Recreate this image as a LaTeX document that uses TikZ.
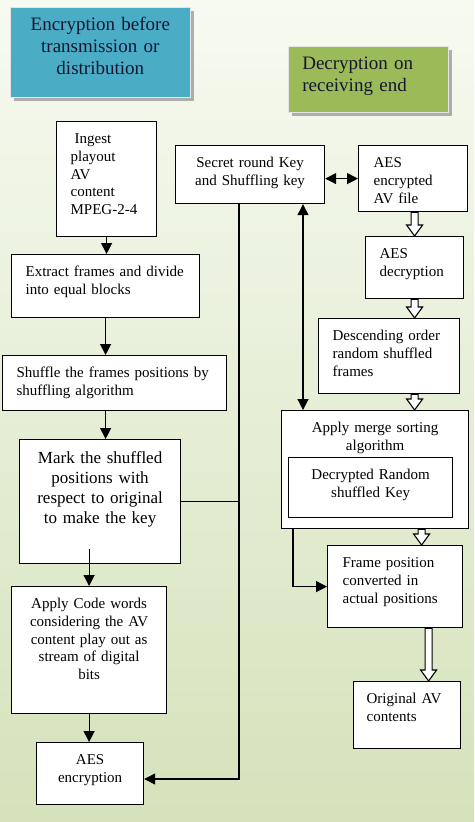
\documentclass[tikz,border=0pt]{standalone}
\usepackage{fontspec}
\setmainfont{Liberation Serif}
\usetikzlibrary{calc,arrows.meta,shadows}
\definecolor{bgtop}{RGB}{247,250,241}
\definecolor{bgbot}{RGB}{213,226,187}
\definecolor{encblue}{RGB}{75,172,198}
\definecolor{decgreen}{RGB}{155,187,89}
\definecolor{ink}{RGB}{22,22,48}

\begin{document}
\begin{tikzpicture}[x=1pt, y=-1pt, line width=1.2pt,
    >={Triangle[length=11pt,width=11pt]},
    blk/.style={draw, fill=white, anchor=north west, inner xsep=14pt,
      inner ysep=7pt, text height=15pt, font=\fontsize{15}{17.7}\selectfont},
    banner/.style={anchor=north west, inner sep=0pt, text=ink, draw=gray!20,
      line width=.6pt, font=\fontsize{19}{22}\selectfont,
      drop shadow={shadow xshift=4pt, shadow yshift=-4pt, fill=gray!70, opacity=.9}},
    hollow/.style={fill=white, line width=1.1pt, to path={let \p1=(\tikztostart),
      \p2=(\tikztotarget) in (\x1-3.5pt,\y1) -- (\x1-3.5pt,\y2+11pt) -- (\x1-8pt,\y2+11pt)
      -- (\x1,\y2) -- (\x1+8pt,\y2+11pt) -- (\x1+3.5pt,\y2+11pt) -- (\x1+3.5pt,\y1) -- cycle}}]
    \useasboundingbox (0,0) rectangle (474,822);
    \shade[top color=bgtop, bottom color=bgbot] (0,0) rectangle (474,822);

    \node[banner, fill=encblue, minimum width=180pt, minimum height=90pt, text depth=56pt,
      text width=170pt, align=center] (enc) at (10,7) {Encryption before\\transmission or\\distribution};
    \node[banner, fill=decgreen, minimum width=160pt, minimum height=66pt, text depth=32pt,
      text width=132pt, align=left] (dec) at (288,46) {Decryption on\\receiving end};

    \node[blk, text width=72pt, text depth=86pt, align=left] (ingest) at (56,121)
      {\hspace{4pt}Ingest\\playout\\AV\\content\\MPEG-2-4};
    \node[blk, text width=160pt, text depth=34pt, align=left] (extract) at (11,254)
      {Extract frames and divide\\into equal blocks};
    \node[blk, text width=196pt, text depth=26pt, align=left] (shuffle) at (2,355)
      {Shuffle the frames positions by\\shuffling algorithm};
    \node[blk, inner xsep=10pt, text width=141pt, text height=17pt, text depth=93pt,
      align=center, font=\fontsize{17}{20}\selectfont] (mark) at (19,439)
      {Mark the shuffled\\positions with\\respect to original\\to make the key};
    \node[blk, inner xsep=8pt, text width=139pt, text depth=98pt, align=center] (apply) at (11,586)
      {Apply Code words\\considering the AV\\content play out as\\stream of digital\\bits};
    \node[blk, inner xsep=8pt, text width=91pt, text depth=33pt, align=center] (aesenc) at (36,742)
      {AES\\encryption};

    \node[blk, inner xsep=10pt, text width=129pt, text depth=29pt, align=center] (secret) at (175,145)
      {Secret round Key\\and Shuffling key};
    \node[blk, inner xsep=15pt, text width=79pt, text depth=37pt, align=left] (aesfile) at (358,145)
      {AES\\encrypted\\AV file};
    \node[blk, text width=70pt, text depth=33pt, align=left] (aesdec) at (365,236)
      {AES\\decryption};
    \node[blk, text width=113pt, text depth=46pt, align=left] (desc) at (318,318)
      {Descending order\\random shuffled\\frames};
    \node[blk, inner xsep=10pt, text width=167pt, text depth=89pt, align=center] (merge) at (281,410)
      {Apply merge sorting\\algorithm};
    \node[blk, inner xsep=10pt, text width=144pt, text depth=31pt, align=center] (key) at (288,457)
      {Decrypted Random\\shuffled Key};
    \node[blk, inner xsep=15pt, text width=105pt, text depth=53pt, align=left] (frame) at (327,545)
      {Frame position\\converted in\\actual positions};
    \node[blk, inner xsep=13pt, text width=81pt, text depth=38pt, align=left] (original) at (353,681)
      {Original AV\\contents};

    \coordinate (trunk) at (239,779);
    \coordinate (keyx) at (303,0);
    \coordinate (m2f) at ($(merge.south)+(46.5,0)$);
    \coordinate (f2o) at ($(frame.south)+(33.5,0)$);

    \draw[->] (ingest) -- (ingest |- extract.north);
    \draw[->] (extract) -- (extract |- shuffle.north);
    \draw[->] (extract |- shuffle.south) -- (extract |- mark.north);
    \draw[->] ($(apply.north |- mark.south)+(0,-15)$) -- (apply.north);
    \draw[->] (apply) -- (apply |- aesenc.north);
    \draw (mark.east) -- (mark.east -| trunk);
    \draw[->] (secret.south -| trunk) |- (aesenc.east |- trunk);

    \draw[<->] (aesfile.west -| secret.east) -- (aesfile.west);
    \draw[<->] (secret.south -| keyx) -- (merge.north -| keyx);
    \draw[->] ([xshift=12pt]merge.south west) |- (frame.west);

    \draw[hollow] (aesdec.north |- aesfile.south) to (aesdec.north);
    \draw[hollow] (aesdec.south) to (aesdec.south |- desc.north);
    \draw[hollow] (aesdec.south |- desc.south) to (aesdec.south |- merge.north);
    \draw[hollow] (m2f) to (m2f |- frame.north);
    \draw[hollow] (f2o) to (f2o |- original.north);
\end{tikzpicture}
\end{document}
